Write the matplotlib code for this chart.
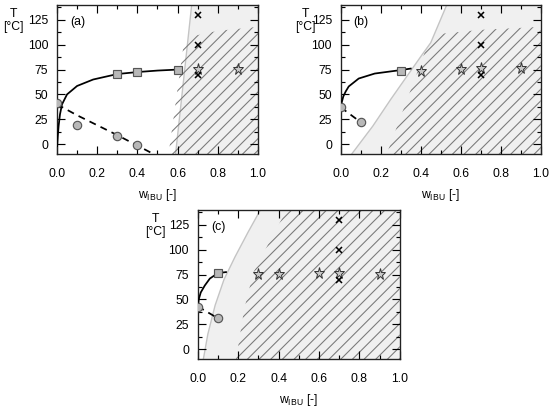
import numpy as np
import matplotlib
matplotlib.use("Agg")
import matplotlib.pyplot as plt
from matplotlib.ticker import MultipleLocator, FormatStrFormatter

plt.rcParams['font.family'] = ['Liberation Sans', 'DejaVu Sans']
plt.rcParams['hatch.linewidth'] = 0.55
plt.rcParams['mathtext.fontset'] = 'custom'
plt.rcParams['mathtext.rm'] = 'Liberation Sans'
plt.rcParams['mathtext.it'] = 'Liberation Sans'

# ---- data ----
# panel (a)
a_circ_w = [0.0, 0.1, 0.3, 0.4]
a_circ_T = [41, 19, 8, -1]
a_sq_w = [0.3, 0.4, 0.6]
a_sq_T = [71, 73, 75]
a_star_w = [0.7, 0.9]
a_star_T = [76, 76]
a_solid_w = [0.001, 0.004, 0.008, 0.015, 0.025, 0.05, 0.1, 0.18, 0.3, 0.4, 0.5, 0.6]
a_solid_T = [-2, 8, 18, 30, 40, 50, 58.5, 65, 70.5, 72.5, 74, 75]
a_dash_w = [0.0, 0.1, 0.2, 0.3, 0.4, 0.48]
a_dash_T = [40, 29, 19, 9, -1.5, -10]
a_bound_w = [0.59, 0.67]
a_bound_T = [-10, 140]
a_hatch_w = [0.555, 0.63, 0.66, 0.8, 1.0, 1.0]
a_hatch_T = [-10, 100, 108, 114, 118, -10]

# panel (b)
b_circ_w = [0.0, 0.1]
b_circ_T = [37, 22]
b_sq_w = [0.3]
b_sq_T = [74]
b_star_w = [0.4, 0.6, 0.7, 0.9]
b_star_T = [74, 76, 77, 77]
b_solid_w = [0.0, 0.005, 0.013, 0.025, 0.04, 0.09, 0.17, 0.3, 0.35]
b_solid_T = [35, 42, 48, 53, 58, 66, 71, 74.5, 76]
b_dash_w = [0.0, 0.1]
b_dash_T = [37, 22]
b_bound_w = [0.055, 0.16, 0.25, 0.33, 0.4, 0.45, 0.53]
b_bound_T = [-10, 18, 45, 68, 88, 102, 140]
b_hatch_w = [0.23, 0.44, 0.5, 0.7, 1.0, 1.0]
b_hatch_T = [-10, 103, 111, 115, 118, -10]

# panel (c)
c_circ_w = [0.0, 0.1]
c_circ_T = [42, 31]
c_sq_w = [0.1]
c_sq_T = [77]
c_star_w = [0.3, 0.4, 0.6, 0.7, 0.9]
c_star_T = [76, 76, 76.5, 76.5, 76]
c_solid_w = [0.0, 0.005, 0.015, 0.035, 0.06, 0.1, 0.14]
c_solid_T = [40, 50, 57, 64, 71, 76.5, 77.5]
c_dash_w = [0.0, 0.1]
c_dash_T = [43, 31]
c_bound_w = [0.028, 0.05, 0.086, 0.13, 0.185, 0.25, 0.31]
c_bound_T = [-10, 15, 44, 70, 93, 118, 140]
c_hatch_w = [0.19, 0.23, 0.275, 0.36, 0.44, 1.0, 1.0]
c_hatch_T = [-10, 40, 77, 110, 140, 140, -10]

# crosses, same in all panels
x_w = [0.7, 0.7, 0.7]
x_T = [130, 100, 70]

panels = [
    dict(label='(a)', pos=[0.1036, 0.6216, 0.3655, 0.3661], tx=-0.216,
         circ=(a_circ_w, a_circ_T), sq=(a_sq_w, a_sq_T), star=(a_star_w, a_star_T),
         solid=(a_solid_w, a_solid_T), dash=(a_dash_w, a_dash_T),
         bound=(a_bound_w, a_bound_T), hatch=(a_hatch_w, a_hatch_T)),
    dict(label='(b)', pos=[0.6195, 0.6216, 0.3636, 0.3661], tx=-0.178,
         circ=(b_circ_w, b_circ_T), sq=(b_sq_w, b_sq_T), star=(b_star_w, b_star_T),
         solid=(b_solid_w, b_solid_T), dash=(b_dash_w, b_dash_T),
         bound=(b_bound_w, b_bound_T), hatch=(b_hatch_w, b_hatch_T)),
    dict(label='(c)', pos=[0.3595, 0.1179, 0.3673, 0.3661], tx=-0.211,
         circ=(c_circ_w, c_circ_T), sq=(c_sq_w, c_sq_T), star=(c_star_w, c_star_T),
         solid=(c_solid_w, c_solid_T), dash=(c_dash_w, c_dash_T),
         bound=(c_bound_w, c_bound_T), hatch=(c_hatch_w, c_hatch_T)),
]

fig = plt.figure(figsize=(550 / 140, 407 / 140), dpi=140)
fs = 6.3

for p in panels:
    ax = fig.add_axes(p['pos'])
    ax.set_xlim(0, 1)
    ax.set_ylim(-10, 140)

    # light gray region right of the boundary curve
    bw, bT = p['bound']
    ax.fill(list(bw) + [1.0, 1.0], list(bT) + [140, -10],
            facecolor='#f0f0f0', edgecolor='none', zorder=0)
    ax.plot(bw, bT, color='#c4c4c4', lw=0.7, zorder=1)

    # hatched region
    hw, hT = p['hatch']
    ax.fill(hw, hT, facecolor='none', edgecolor='#7a7a7a', hatch='////',
            linewidth=0, zorder=1)

    ax.plot(*p['solid'], color='black', lw=0.9, zorder=3)
    ax.plot(*p['dash'], color='black', lw=0.9, ls=(0, (4, 3)), zorder=3)

    ax.plot(*p['circ'], ls='none', marker='o', ms=4.3, mfc='#b8b8b8',
            mec='#555555', mew=0.6, zorder=4)
    ax.plot(*p['sq'], ls='none', marker='s', ms=3.7, mfc='#b8b8b8',
            mec='#555555', mew=0.6, zorder=4, clip_on=False)
    ax.plot(*p['star'], ls='none', marker='*', ms=5.8, mfc='#c8c8c8',
            mec='#333333', mew=0.5, zorder=4)
    ax.plot(x_w, x_T, ls='none', marker='x', ms=3.5, color='black',
            mew=0.8, zorder=4)

    ax.xaxis.set_major_locator(MultipleLocator(0.2))
    ax.xaxis.set_minor_locator(MultipleLocator(0.1))
    ax.xaxis.set_major_formatter(FormatStrFormatter('%.1f'))
    ax.yaxis.set_major_locator(MultipleLocator(25))
    ax.yaxis.set_minor_locator(MultipleLocator(12.5))
    ax.tick_params(which='both', direction='in', top=True, right=True,
                   width=0.6, labelsize=fs)
    ax.tick_params(axis='x', pad=7)
    ax.tick_params(axis='y', pad=4.5)
    ax.tick_params(which='major', length=4)
    ax.tick_params(which='minor', length=2)
    ax.set_yticks([0, 25, 50, 75, 100, 125])
    for s in ax.spines.values():
        s.set_linewidth(0.7)
        s.set_color('#222222')

    ax.set_xlabel(r'w$_{\mathrm{IBU}}$ [-]', fontsize=fs, labelpad=4)
    ax.text(0.065, 0.885, p['label'], transform=ax.transAxes, fontsize=fs,
            ha='left', va='center')
    ax.text(p['tx'], 0.94, 'T', transform=ax.transAxes, fontsize=fs,
            ha='center', va='center')
    ax.text(p['tx'], 0.85, '[°C]', transform=ax.transAxes, fontsize=fs,
            ha='center', va='center')

fig.savefig('out.png', dpi=140)
